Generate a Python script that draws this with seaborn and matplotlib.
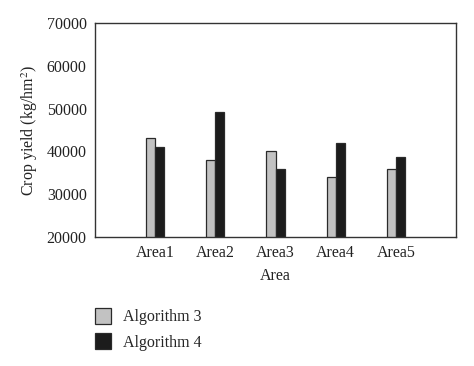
"""Crop yield per area, algorithm 3 vs algorithm 4"""
import numpy as np
import pandas as pd
import matplotlib
matplotlib.use("Agg")
import matplotlib.pyplot as plt
import seaborn as sns


areas = ["Area1", "Area2", "Area3", "Area4", "Area5"]
algo3 = [43100, 38000, 40000, 34000, 36000]
algo4 = [41100, 49200, 36000, 42000, 38800]
series_names = ["Algorithm 3", "Algorithm 4"]

data = pd.DataFrame({
    "Area": areas * 2,
    "yield": algo3 + algo4,
    "algo": [series_names[0]] * len(areas) + [series_names[1]] * len(areas),
})

sns.set_style("white")
plt.rcParams["font.family"] = ["Liberation Serif", "DejaVu Serif"]
plt.rcParams["mathtext.fontset"] = "stix"

fs = 11.5
fig = plt.figure(figsize=(4.74, 3.66), dpi=100)
ax = fig.add_axes([95 / 474, 1 - 237 / 366, 361 / 474, 214 / 366])

sns.barplot(data=data, x="Area", y="yield", hue="algo",
            palette=["#c2c2c2", "#1c1c1c"], width=0.3,
            edgecolor="#2a2a2a", linewidth=0.9, ax=ax, legend=False)

ax.set_xlim(-1, 5)
ax.set_ylim(20000, 70000)
ax.set_yticks(np.arange(20000, 70001, 10000))
ax.tick_params(axis="both", length=0, labelsize=fs, colors="#222222", pad=6)
ax.set_xlabel("Area", fontsize=fs, color="#222222", labelpad=5)
ax.set_ylabel("Crop yield (kg/hm$^2$)", fontsize=fs, color="#222222", labelpad=5)
for s in ax.spines.values():
    s.set_color("#333333")
    s.set_linewidth(1.0)

# legend below the plot
handles = [plt.Rectangle((0, 0), 1, 1, facecolor=c, edgecolor="#2a2a2a", linewidth=0.9)
           for c in ["#c2c2c2", "#1c1c1c"]]
fig.legend(handles, series_names, loc="upper left", bbox_to_anchor=(81 / 474, 1 - 294 / 366),
           frameon=False, fontsize=fs, handlelength=1.0, handleheight=1.1,
           handletextpad=0.7, labelspacing=0.5)

fig.savefig("out.png", dpi=100)
